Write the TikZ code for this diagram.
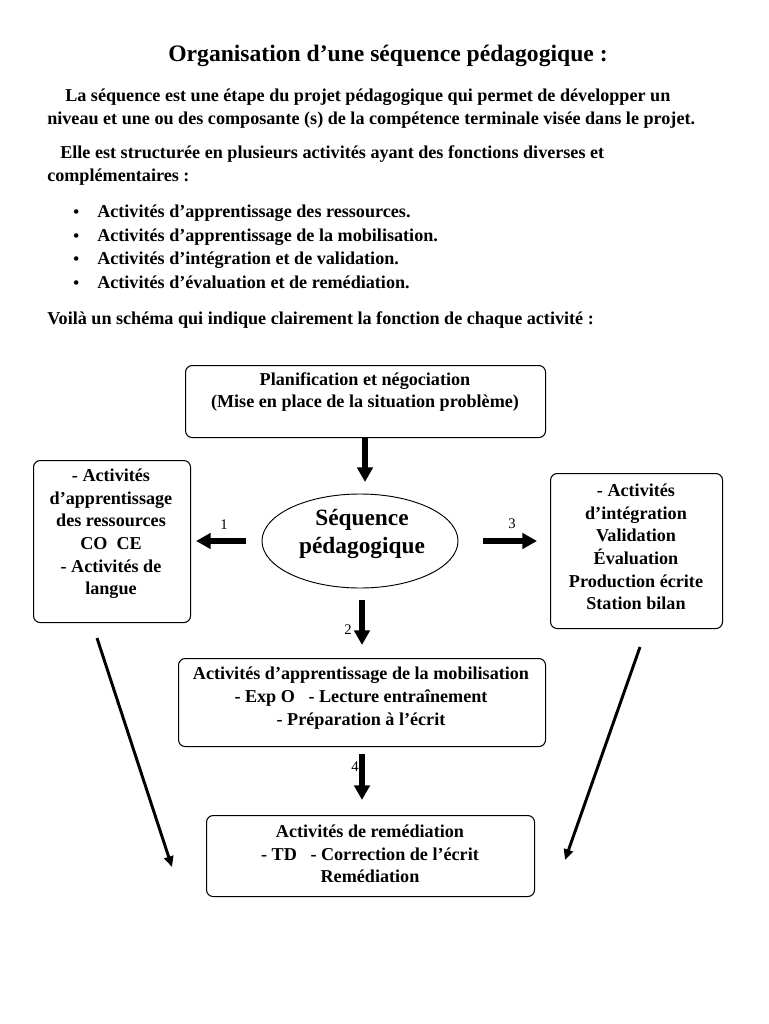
\documentclass[tikz,border=0pt]{standalone}
\usepackage{fontspec}
\setmainfont{Liberation Serif}
\usetikzlibrary{shapes.geometric,arrows.meta}
\begin{document}
\begin{tikzpicture}[x=0.75pt,y=-0.75pt,
  body/.style={anchor=base west,inner sep=0pt,font=\bfseries\fontsize{13.6}{17}\selectfont},
  bul/.style={anchor=base west,inner sep=0pt,font=\bfseries\fontsize{12.5}{17}\selectfont},
  box/.style={draw,line width=0.8pt,rounded corners=5pt,inner sep=0pt,anchor=north west},
  boxtext/.style={align=center,inner sep=0pt,font=\bfseries\fontsize{13.6}{17}\selectfont},
  num/.style={inner sep=0pt,font=\fontsize{11}{12}\selectfont},
  bigarrow/.style={line width=4.2pt,-{Triangle[length=11pt,width=11.5pt]}},
  thinarrow/.style={line width=2.2pt,-{Triangle[length=8pt,width=7pt]}}
]
\useasboundingbox (0,0) rectangle (768,1024);
% title and text
\node[inner sep=0pt,anchor=base,font=\bfseries\fontsize{17.7}{20}\selectfont] (title) at (388,62) {Organisation d’une séquence pédagogique :};
\node[body] (l1) at (65,101) {La séquence est une étape du projet pédagogique qui permet de développer un};
\node[body] (l2) at (47,124) {niveau et une ou des composante (s) de la compétence terminale visée dans le projet.};
\node[body] (l3) at (60,158) {Elle est structurée en plusieurs activités ayant des fonctions diverses et};
\node[body] (l4) at (47,181) {complémentaires :};
\node[bul] (b1) at (73,217) {•};
\node[body] (t1) at (97,217) {Activités d’apprentissage des ressources.};
\node[bul] (b2) at (73,241) {•};
\node[body] (t2) at (97,241) {Activités d’apprentissage de la mobilisation.};
\node[bul] (b3) at (73,264) {•};
\node[body] (t3) at (97,264) {Activités d’intégration et de validation.};
\node[bul] (b4) at (73,288) {•};
\node[body] (t4) at (97,288) {Activités d’évaluation et de remédiation.};
\node[body] (l5) at (47,324) {Voilà un schéma qui indique clairement la fonction de chaque activité :};
% boxes
\node[box,minimum width=270pt,minimum height=54pt] (top) at (185,365) {};
\node[boxtext] (toptext) at (365,392) {Planification et négociation\\(Mise en place de la situation problème)};
\node[draw,ellipse,line width=0.7pt,minimum width=147pt,minimum height=70.5pt,inner sep=0pt] (seq) at (360,541) {};
\node[align=center,inner sep=0pt,font=\bfseries\fontsize{17.5}{21}\selectfont] (seqtext) at (362,534) {Séquence\\pédagogique};
\node[box,minimum width=117.75pt,minimum height=121.5pt] (left) at (33,460) {};
\node[boxtext] (lefttext) at (111,534) {- Activités\\d’apprentissage\\des ressources\\CO\ \ CE\\- Activités de\\langue};
\node[box,minimum width=129pt,minimum height=116.25pt] (right) at (550,473) {};
\node[boxtext] (righttext) at (636,547) {- Activités\\d’intégration\\Validation\\Évaluation\\Production écrite\\Station bilan};
\node[box,minimum width=275.25pt,minimum height=66pt] (mid) at (178,658) {};
\node[boxtext] (midtext) at (361,698) {Activités d’apprentissage de la mobilisation\\- Exp O\ \ \ - Lecture entraînement\\- Préparation à l’écrit};
\node[box,minimum width=246pt,minimum height=60.75pt] (bot) at (206,815) {};
\node[boxtext] (bottext) at (370,854) {Activités de remédiation\\- TD\ \ \ - Correction de l’écrit\\Remédiation};
% arrows
\draw[bigarrow] (top.south -| 365,0) -- (365,482);
\draw[bigarrow] ([xshift=-12pt]seq.west) -- ([xshift=3.75pt]left.east |- seq.west);
\draw[bigarrow] ([xshift=18.75pt]seq.east) -- ([xshift=-9.75pt]right.west |- seq.east);
\draw[bigarrow] ([yshift=-9pt]seq.south -| 362,0) -- (362,645);
\draw[bigarrow] ([yshift=-5.25pt]mid.south -| 362,0) -- (362,800);
\node[num] (n1) at (224,525) {1};
\node[num] (n3) at (512,524) {3};
\node[num] (n2) at (348,630) {2};
\node[num] (n4) at (355,767) {4};
\coordinate (dl1) at (97,638);
\coordinate (dl2) at (172,867);
\coordinate (dr1) at (640,647);
\coordinate (dr2) at (565,860);
\draw[thinarrow] (dl1) -- (dl2);
\draw[thinarrow] (dr1) -- (dr2);
\end{tikzpicture}
\end{document}
